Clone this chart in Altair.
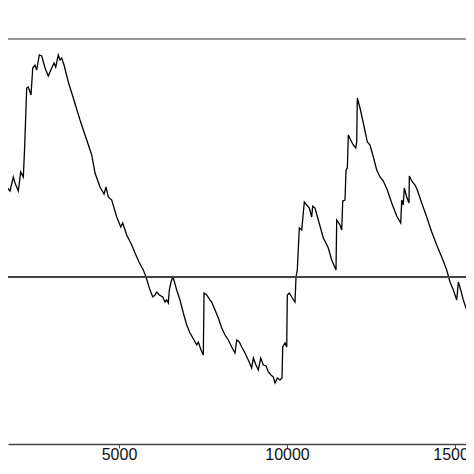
import altair as alt
import pandas as pd

# series (x = sample index, y = arbitrary units, 0 = reference line)
xs = [1458, 1557, 1658, 1756, 1854, 1905, 2003, 2074, 2152, 2188, 2253, 2301, 2381, 2432, 2500,
      2551, 2628, 2699, 2798, 2896, 2997, 3065, 3116, 3193, 3244, 3295, 3363, 3491, 3640, 3839,
      3938, 4039, 4188, 4286, 4435, 4554, 4613, 4682, 4783, 4932, 5051, 5110, 5229, 5378, 5476,
      5595, 5723, 5804, 5902, 6003, 6071, 6122, 6199, 6301, 6369, 6420, 6467, 6497, 6548, 6598,
      6616, 6717, 6815, 6914, 7015, 7113, 7232, 7312, 7360, 7441, 7509, 7531, 7610, 7708, 7759,
      7857, 7955, 8057, 8155, 8253, 8354, 8452, 8503, 8581, 8652, 8750, 8848, 8949, 8997, 9077,
      9146, 9217, 9295, 9375, 9444, 9524, 9592, 9643, 9711, 9792, 9851, 9872, 9940, 9991, 10009,
      10069, 10140, 10238, 10268, 10306, 10366, 10438, 10515, 10586, 10664, 10734, 10765, 10833,
      10932, 11081, 11229, 11330, 11458, 11479, 11577, 11628, 11658, 11726, 11756, 11795, 11825,
      11896, 11973, 12045, 12074, 12092, 12173, 12271, 12390, 12470, 12569, 12670, 12768, 12866,
      12985, 13116, 13265, 13384, 13414, 13461, 13491, 13562, 13631, 13640, 13711, 13810, 13878,
      14009, 14158, 14307, 14455, 14604, 14753, 14851, 14950, 15051, 15099, 15170, 15247, 15348,
      15426, 15497, 15565, 15685]
ys = [1.09, 1.02, 0.90, 0.86, 1.00, 0.94, 0.86, 1.05, 1.00, 1.27, 1.89, 1.90, 1.82, 2.09, 2.12,
      2.07, 2.22, 2.21, 2.09, 2.01, 2.09, 2.14, 2.10, 2.22, 2.17, 2.19, 2.12, 1.95, 1.79, 1.57,
      1.47, 1.37, 1.22, 1.04, 0.90, 0.83, 0.90, 0.80, 0.77, 0.60, 0.50, 0.54, 0.42, 0.32, 0.24,
      0.15, 0.07, 0.00, -0.11, -0.20, -0.18, -0.15, -0.18, -0.20, -0.25, -0.23, -0.26, -0.13, -0.05, 0.00,
      -0.01, -0.13, -0.23, -0.36, -0.48, -0.56, -0.63, -0.68, -0.65, -0.73, -0.78, -0.16, -0.18, -0.23, -0.25,
      -0.33, -0.41, -0.51, -0.58, -0.63, -0.70, -0.76, -0.63, -0.65, -0.70, -0.76, -0.83, -0.91, -0.81, -0.88,
      -0.93, -0.81, -0.88, -0.89, -0.95, -0.98, -1.00, -1.06, -1.01, -1.03, -1.01, -0.70, -0.66, -0.70, -0.18,
      -0.16, -0.20, -0.25, 0.00, 0.07, 0.49, 0.47, 0.75, 0.72, 0.69, 0.60, 0.71, 0.69,
      0.57, 0.39, 0.29, 0.17, 0.07, 0.57, 0.52, 0.47, 0.76, 0.77, 1.07, 1.09, 1.42,
      1.37, 1.32, 1.29, 1.35, 1.79, 1.69, 1.54, 1.35, 1.32, 1.20, 1.07, 1.00, 0.96,
      0.87, 0.74, 0.61, 0.54, 0.77, 0.72, 0.89, 0.80, 0.74, 1.01, 0.96, 0.92, 0.87,
      0.74, 0.60, 0.45, 0.32, 0.20, 0.07, -0.05, -0.13, -0.23, -0.05, -0.13, -0.23, -0.33,
      -0.43, -0.46, -0.50, -0.55]
x_ticks = [5000, 10000, 15000]
x_domain = [1696, 15327]
y_domain = [-1.67, 2.38]
zero_level = [0.0]
top_level = [2.38]

df = pd.DataFrame({"x": xs, "y": ys})

xscale = alt.Scale(domain=x_domain, nice=False, zero=False)
yscale = alt.Scale(domain=y_domain, nice=False, zero=False)

line = alt.Chart(df).mark_line(color="black", strokeWidth=1.3, clip=True).encode(
    x=alt.X("x:Q", scale=xscale,
            axis=alt.Axis(title=None, values=x_ticks, grid=False, tickSize=4, labelPadding=-2,
                          format="d",
                          domainColor="#444444", domainWidth=1.5, tickColor="#444444",
                          labelFont="Liberation Sans", labelFontSize=16, labelColor="#111111")),
    y=alt.Y("y:Q", scale=yscale, axis=None),
)

zero = alt.Chart(pd.DataFrame({"y": zero_level})).mark_rule(color="#444444", strokeWidth=1.8).encode(
    y=alt.Y("y:Q", scale=yscale, axis=None)
)
top = alt.Chart(pd.DataFrame({"y": top_level})).mark_rule(color="#777777", strokeWidth=1.5).encode(
    y=alt.Y("y:Q", scale=yscale, axis=None)
)

chart = alt.layer(line, zero, top).properties(
    width=458, height=405,
    autosize=alt.AutoSizeParams(type="none"),
    padding={"left": 0, "top": 31, "right": 0, "bottom": 18},
).configure_view(strokeWidth=0)

chart.save("out.html", embed_options={"renderer": "svg", "actions": False})
